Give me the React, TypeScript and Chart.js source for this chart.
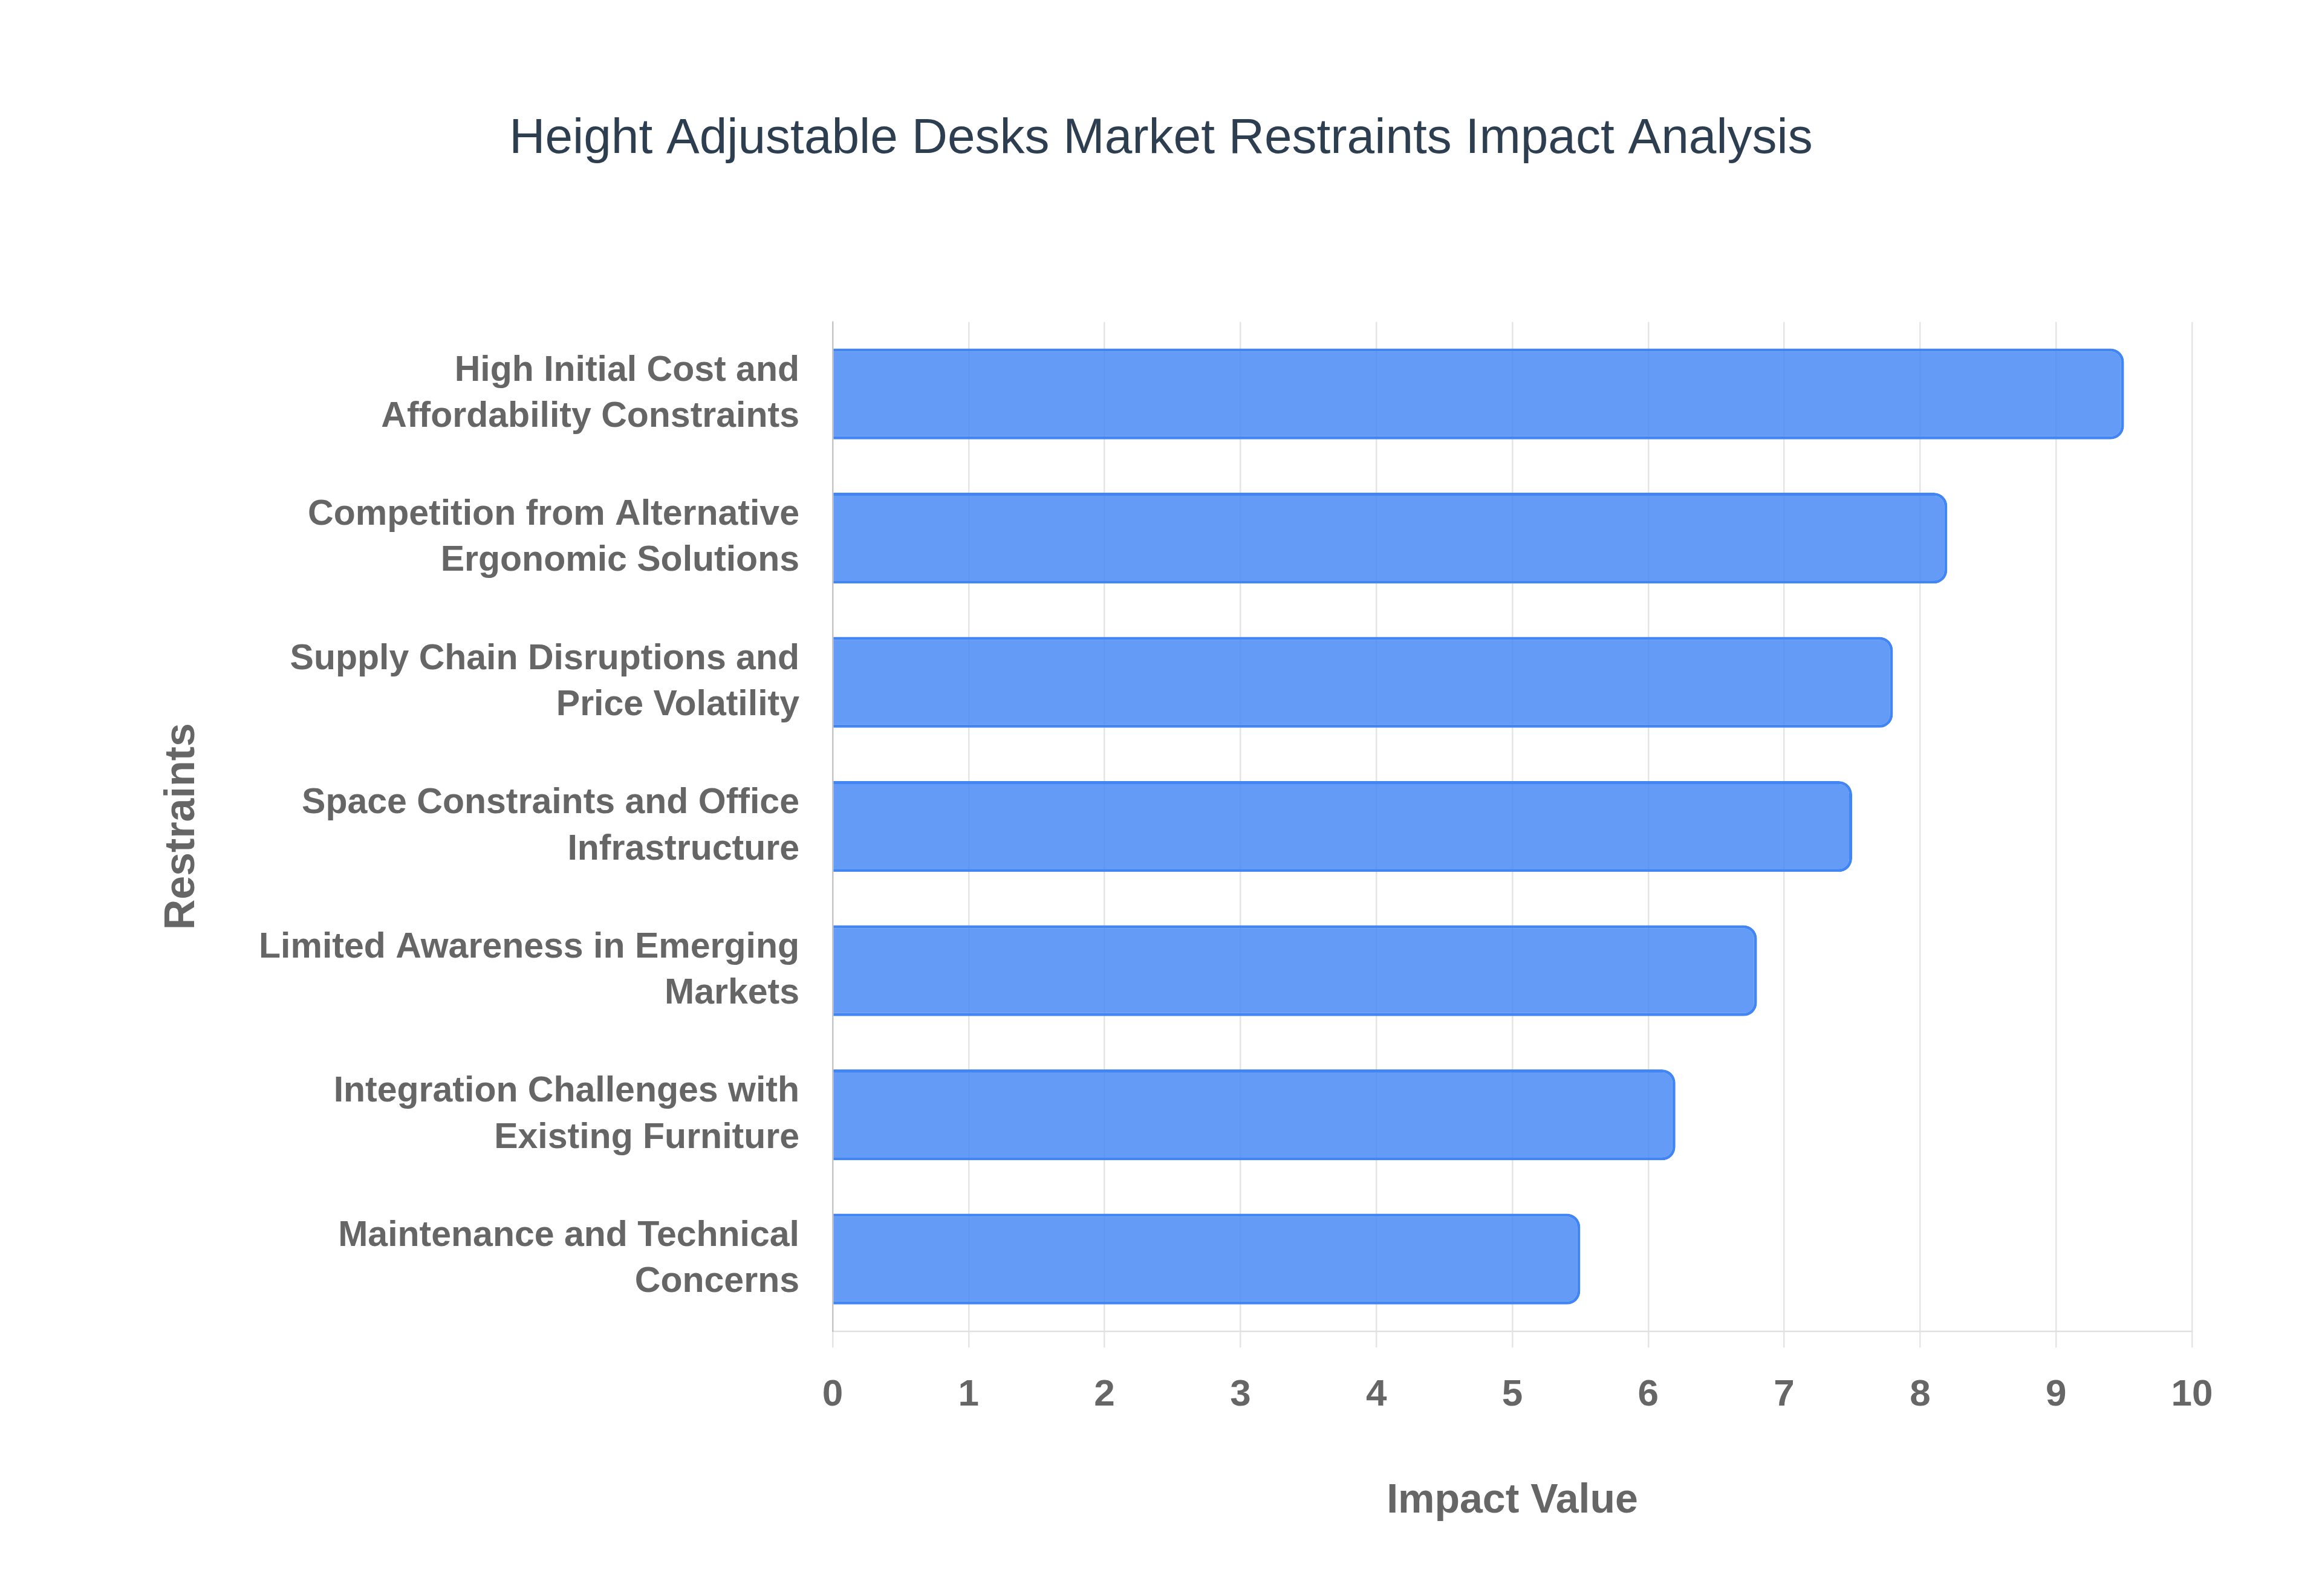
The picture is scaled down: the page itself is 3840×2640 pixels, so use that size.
import React, { useEffect, useRef } from 'react';
import { Chart, registerables } from 'chart.js';

Chart.register(...registerables);

// chart values
const restraintLabels: string[][] = [
  ['High Initial Cost and', 'Affordability Constraints'],
  ['Competition from Alternative', 'Ergonomic Solutions'],
  ['Supply Chain Disruptions and', 'Price Volatility'],
  ['Space Constraints and Office', 'Infrastructure'],
  ['Limited Awareness in Emerging', 'Markets'],
  ['Integration Challenges with', 'Existing Furniture'],
  ['Maintenance and Technical', 'Concerns'],
];
const impactValues: number[] = [9.5, 8.2, 7.8, 7.5, 6.8, 6.2, 5.5];
const impactTicks: number[] = [0, 1, 2, 3, 4, 5, 6, 7, 8, 9, 10];

const chartTitle = 'Height Adjustable Desks Market Restraints Impact Analysis';
const xAxisTitle = 'Impact Value';
const yAxisTitle = 'Restraints';

const FONT = 'Arial, "Liberation Sans", Helvetica, sans-serif';
const GRAY = '#666666';
const SIDE_PAD = 215;

const App: React.FC = () => {
  const canvasRef = useRef<HTMLCanvasElement>(null);
  const chartInstance = useRef<Chart | null>(null);

  useEffect(() => {
    document.body.style.margin = '0';
    if (!canvasRef.current) return;
    if (chartInstance.current) {
      chartInstance.current.destroy();
    }
    const ctx = canvasRef.current.getContext('2d');
    if (!ctx) return;

    chartInstance.current = new Chart(ctx, {
      type: 'bar',
      data: {
        labels: restraintLabels,
        datasets: [
          {
            label: 'Impact',
            data: impactValues,
            backgroundColor: 'rgba(66, 133, 244, 0.82)',
            borderColor: 'rgba(66, 133, 244, 1)',
            borderWidth: 5,
            borderRadius: 22,
            borderSkipped: 'start',
            barPercentage: 0.9,
            categoryPercentage: 0.7,
          },
        ],
      },
      options: {
        indexAxis: 'y',
        animation: false,
        responsive: true,
        maintainAspectRatio: false,
        devicePixelRatio: 1,
        layout: {
          padding: { top: 0, right: SIDE_PAD, bottom: 0, left: SIDE_PAD },
        },
        plugins: {
          legend: { display: false },
          tooltip: { enabled: false },
          title: {
            display: true,
            text: chartTitle,
            color: '#2c3e50',
            font: { family: FONT, size: 82, weight: 'normal' },
            padding: { top: 181, bottom: 253 },
          },
        },
        scales: {
          x: {
            min: 0,
            max: 10,
            afterBuildTicks: (scale: any) => {
              scale.ticks = impactTicks.map((v) => ({ value: v }));
            },
            afterFit: (scale: any) => {
              scale.height = 438;
            },
            grid: {
              color: 'rgba(0, 0, 0, 0.1)',
              lineWidth: 2.5,
              drawTicks: true,
              tickLength: 27,
            },
            border: {
              display: true,
              color: 'rgba(0, 0, 0, 0.12)',
              width: 2.5,
            },
            ticks: {
              color: GRAY,
              padding: 42,
              font: { family: FONT, size: 62, weight: 'bold' },
            },
            title: {
              display: true,
              text: xAxisTitle,
              color: GRAY,
              font: { family: FONT, size: 68, weight: 'bold' },
              padding: { top: 0, bottom: 116 },
            },
          },
          y: {
            afterFit: (scale: any) => {
              scale.width = 1377 - SIDE_PAD;
            },
            grid: {
              display: false,
              drawTicks: false,
            },
            border: {
              display: true,
              color: 'rgba(0, 0, 0, 0.14)',
              width: 2.5,
            },
            ticks: {
              color: GRAY,
              padding: 55,
              font: { family: FONT, size: 59, weight: 'bold', lineHeight: 1.29 },
            },
            title: {
              display: true,
              text: yAxisTitle,
              color: GRAY,
              font: { family: FONT, size: 70, weight: 'bold' },
              padding: { top: 260 - SIDE_PAD, bottom: 0 },
            },
          },
        },
      },
    });

    return () => {
      if (chartInstance.current) {
        chartInstance.current.destroy();
        chartInstance.current = null;
      }
    };
  }, []);

  return (
    <div style={{ position: 'relative', width: '3840px', height: '2640px', background: '#ffffff' }}>
      <canvas ref={canvasRef}></canvas>
    </div>
  );
};

export default App;
